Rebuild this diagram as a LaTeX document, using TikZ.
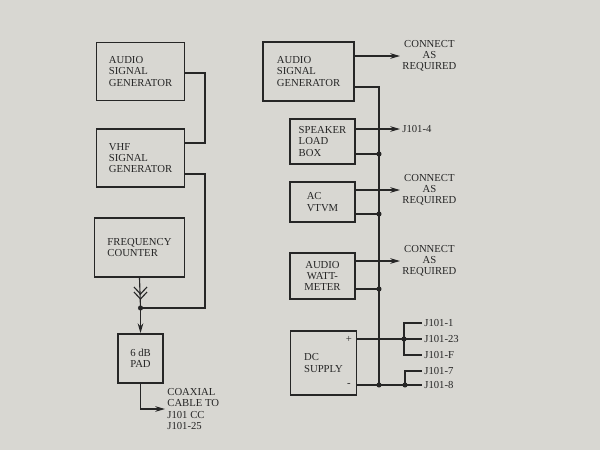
\documentclass[tikz,border=0pt]{standalone}
\usepackage{fontspec}
\setmainfont{Liberation Serif}
\usepackage{xcolor}
\definecolor{paper}{RGB}{216, 215, 210}
\definecolor{ink}{RGB}{38, 38, 38}
\usepackage{tikz}
\usetikzlibrary{arrows.meta}
\newcommand{\benchfont}{\fontsize{7.6}{7.9}\selectfont}

\begin{document}
\begin{tikzpicture}[x=0.025cm, y=-0.025cm,
    unit/.style={
        rectangle, draw=ink, line width=1.1pt, align=left,
        font=\benchfont, text=ink, inner sep=2pt
    },
    lbl/.style={font=\benchfont, text=ink, inner sep=1.5pt, align=center},
    wire/.style={ink, line width=0.8pt},
    arr/.style={-{Stealth[length=7pt, width=4pt]}, ink, line width=0.8pt}
]
\fill[paper] (0,0) rectangle (600,450);
\useasboundingbox (0,0) rectangle (600,450);

% left bench
\node[unit, minimum width=2.2cm, minimum height=1.45cm] (asgA) at (140.5,71.5) {AUDIO\\SIGNAL\\GENERATOR};
\node[unit, minimum width=2.2cm, minimum height=1.45cm] (vhf) at (140.5,158) {VHF\\SIGNAL\\GENERATOR};
\node[unit, minimum width=2.25cm, minimum height=1.48cm] (cnt) at (139.5,247.5) {FREQUENCY\\COUNTER};
\node[unit, minimum width=1.13cm, minimum height=1.23cm, align=center] (pad) at (140.5,358.5) {6 dB\\PAD};
\node[lbl, anchor=west, align=left] (coax) at (165,409) {COAXIAL\\CABLE TO\\J101 CC\\J101-25};

\coordinate (jn) at (140.5,308);

\draw[wire] (asgA.east |- 0,73) -- (205,73) |- (vhf.east |- 0,143);
\draw[wire] (vhf.east |- 0,174) -- (205,174) |- (jn);
\draw[wire] (cnt.south) -- (jn);
\draw[wire] (134,287) -- (140.5,294) -- (147,287)
            (134,292) -- (140.5,299) -- (147,292);
\draw[arr] (jn) -- (pad.north);
\draw[arr] (pad.south) |- (coax.west);
\fill[ink] (jn) circle (1.8pt);

% right bench
\node[unit, minimum width=2.28cm, minimum height=1.48cm] (asgB) at (308.5,71.5) {AUDIO\\SIGNAL\\GENERATOR};
\node[unit, minimum width=1.62cm, minimum height=1.12cm] (load) at (322.5,141.5) {SPEAKER\\LOAD\\BOX};
\node[unit, minimum width=1.62cm, minimum height=1.0cm] (vtvm) at (322.5,202) {AC\\VTVM};
\node[unit, minimum width=1.62cm, minimum height=1.15cm, align=center] (watt) at (322.5,276) {AUDIO\\WATT-\\METER};
\node[unit, minimum width=1.65cm, minimum height=1.6cm] (dc) at (323.5,363) {DC\\SUPPLY};
\node[font=\benchfont, text=ink, inner sep=0pt] (plus) at (349,339) {+};
\node[font=\benchfont, text=ink, inner sep=0pt] (minus) at (349,385) {-};

\node[lbl, anchor=west] (outA) at (400,56) {CONNECT\\AS\\REQUIRED};
\node[lbl, anchor=west] (outB) at (400,129) {J101-4};
\node[lbl, anchor=west] (outC) at (400,190) {CONNECT\\AS\\REQUIRED};
\node[lbl, anchor=west] (outD) at (400,261) {CONNECT\\AS\\REQUIRED};

\node[lbl, anchor=west] (j1) at (422,323) {J101-1};
\node[lbl, anchor=west] (j23) at (422,339) {J101-23};
\node[lbl, anchor=west] (jF) at (422,355) {J101-F};
\node[lbl, anchor=west] (j7) at (422,371) {J101-7};
\node[lbl, anchor=west] (j8) at (422,385) {J101-8};

\coordinate (busT) at (379,87);
\coordinate (busB) at (379,385);
\coordinate (pj) at (404,339);
\coordinate (mj) at (405,385);

\draw[arr] (asgB.east |- outA.west) -- (outA.west);
\draw[arr] (load.east |- outB.west) -- (outB.west);
\draw[arr] (vtvm.east |- outC.west) -- (outC.west);
\draw[arr] (watt.east |- outD.west) -- (outD.west);

\draw[wire] (asgB.east |- busT) -- (busT) -- (busB);
\draw[wire] (load.east |- 0,154) -- (379,154);
\draw[wire] (vtvm.east |- 0,214) -- (379,214);
\draw[wire] (watt.east |- 0,289) -- (379,289);
\fill[ink] (379,154) circle (1.8pt) (379,214) circle (1.8pt) (379,289) circle (1.8pt);

\draw[wire] (dc.east |- pj) -- (j23.west);
\draw[wire] (j1.west) -| (pj) |- (jF.west);
\draw[wire] (dc.east |- mj) -- (j8.west);
\draw[wire] (mj) |- (j7.west);
\fill[ink] (pj) circle (1.8pt) (mj) circle (1.8pt) (busB) circle (1.8pt);

\end{tikzpicture}
\end{document}
